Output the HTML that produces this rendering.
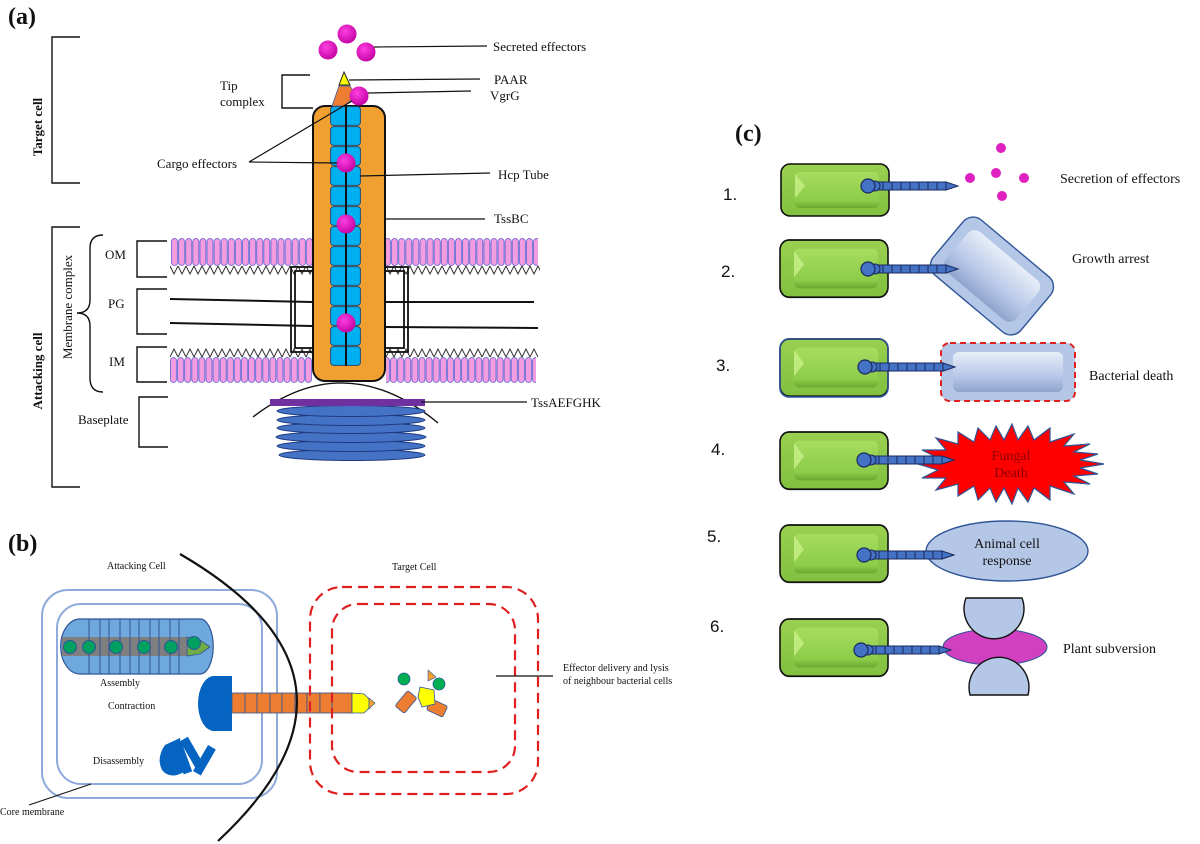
<!DOCTYPE html>
<html><head><meta charset="utf-8"><style>
html,body{margin:0;padding:0;background:#fff}
svg{display:block}
text{font-family:"Liberation Serif",serif;fill:#111}
.s{font-family:"Liberation Sans",sans-serif}
</style></head><body>
<svg width="1200" height="844" viewBox="0 0 1200 844" xmlns="http://www.w3.org/2000/svg">
<defs>
<pattern id="lip" x="171" y="238" width="7.1" height="28" patternUnits="userSpaceOnUse">
<rect x="0.5" y="0.5" width="6" height="27" rx="3" fill="#f49ce0" stroke="#5b5bd0" stroke-width="0.8"/>
</pattern>
<pattern id="lip2" x="170" y="357" width="7.1" height="26" patternUnits="userSpaceOnUse">
<rect x="0.5" y="0.5" width="6" height="25" rx="3" fill="#f49ce0" stroke="#5b5bd0" stroke-width="0.8"/>
</pattern>
<pattern id="zz" x="170" y="265" width="8" height="10" patternUnits="userSpaceOnUse">
<path d="M0,1 L4,9 L8,1" fill="none" stroke="#222" stroke-width="0.9"/>
</pattern>
<pattern id="zz2" x="170" y="348" width="8" height="10" patternUnits="userSpaceOnUse">
<path d="M0,9 L4,1 L8,9" fill="none" stroke="#222" stroke-width="0.9"/>
</pattern>
<pattern id="hcp" x="330" y="106" width="31" height="20" patternUnits="userSpaceOnUse">
<rect x="0.6" y="0.6" width="29.8" height="18.8" rx="3" fill="#00b0f0" stroke="#1f4e79" stroke-width="1"/>
</pattern>
<radialGradient id="mag" cx="0.4" cy="0.35" r="0.7"><stop offset="0" stop-color="#ff40e0"/><stop offset="1" stop-color="#c000a0"/></radialGradient>
<linearGradient id="gr" x1="0" y1="0" x2="0" y2="1"><stop offset="0" stop-color="#9ad050"/><stop offset="1" stop-color="#82c040"/></linearGradient>
<linearGradient id="gi" x1="0" y1="0" x2="0" y2="1"><stop offset="0" stop-color="#a8dc60"/><stop offset="0.8" stop-color="#8ccc48"/><stop offset="1" stop-color="#6aa830"/></linearGradient>
<linearGradient id="bi" x1="0" y1="0" x2="0" y2="1"><stop offset="0" stop-color="#e8eef8"/><stop offset="0.6" stop-color="#b8c8e8"/><stop offset="1" stop-color="#8fa4cc"/></linearGradient>
<g id="cell">
<rect x="0" y="0" width="108" height="52" rx="9" fill="url(#gr)" stroke="#111" stroke-width="1.6"/>
<rect x="14" y="8" width="84" height="36" rx="5" fill="url(#gi)"/>
<polygon points="14,10 24,22 14,34" fill="#c8f088" opacity="0.8"/>
</g>
<g id="ndl">
<rect x="6" y="-4" width="72" height="8" fill="#4472c4" stroke="#1a2a60" stroke-width="1"/>
<path d="M15,-4v8M24,-4v8M33,-4v8M42,-4v8M51,-4v8M60,-4v8M69,-4v8" stroke="#1a2a60" stroke-width="1"/>
<polygon points="78,-4 90,0 78,4" fill="#4472c4" stroke="#1a2a60" stroke-width="1"/>
<circle cx="7" cy="0" r="5" fill="#4472c4" stroke="#1a2a60" stroke-width="1"/>
<circle cx="0" cy="0" r="7" fill="#4472c4" stroke="#1a2a60" stroke-width="1.2"/>
</g>
</defs>

<text x="8" y="24" font-size="24" font-weight="bold">(a)</text>
<g fill="none" stroke="#111" stroke-width="1.4">
<path d="M80,37H52V183H80"/>
<path d="M80,227H52V487H80"/>
<path d="M103,235 Q90,235 90,248 V300 Q90,313 77,313 Q90,313 90,326 V378 Q90,392 103,392"/>
<path d="M167,241H137V277H167"/>
<path d="M167,289H137V334H167"/>
<path d="M167,347H137V382H167"/>
<path d="M168,397H139V447H168"/>
<path d="M310,75H282V108H313"/>
</g>
<text transform="translate(42,127) rotate(-90)" text-anchor="middle" font-size="13" font-weight="bold">Target cell</text>
<text transform="translate(42,371) rotate(-90)" text-anchor="middle" font-size="13" font-weight="bold">Attacking cell</text>
<text transform="translate(72,307) rotate(-90)" text-anchor="middle" font-size="13">Membrane complex</text>
<text x="105" y="259" font-size="13">OM</text>
<text x="108" y="308" font-size="13">PG</text>
<text x="109" y="366" font-size="13">IM</text>
<text x="78" y="424" font-size="13">Baseplate</text>
<text x="220" y="90" font-size="13">Tip</text>
<text x="220" y="106" font-size="13">complex</text>

<rect x="171" y="238" width="142" height="28" fill="url(#lip)"/>
<rect x="385" y="238" width="153" height="28" fill="url(#lip)"/>
<rect x="170" y="265" width="370" height="10" fill="url(#zz)"/>
<rect x="170" y="348" width="368" height="10" fill="url(#zz2)"/>
<rect x="170" y="357" width="142" height="26" fill="url(#lip2)"/>
<rect x="386" y="357" width="150" height="26" fill="url(#lip2)"/>
<g stroke="#111" stroke-width="2">
<line x1="170" y1="299" x2="312" y2="302"/><line x1="384" y1="302" x2="534" y2="302"/>
<line x1="170" y1="323" x2="312" y2="326"/><line x1="384" y1="327" x2="538" y2="328"/>
</g>
<rect x="291" y="267" width="117" height="85" fill="none" stroke="#111" stroke-width="1.8"/>
<rect x="295" y="271" width="109" height="77" fill="none" stroke="#111" stroke-width="1.8"/>

<path d="M253,417 Q345,346 438,423" fill="none" stroke="#111" stroke-width="1.4"/>
<g fill="#4472c4" stroke="#1f3a80" stroke-width="1">
<ellipse cx="352" cy="455" rx="73" ry="5.5"/>
<ellipse cx="351" cy="446" rx="74" ry="5.5"/>
<ellipse cx="351" cy="437" rx="75" ry="5.5"/>
<ellipse cx="351" cy="428" rx="74" ry="5.5"/>
<ellipse cx="351" cy="420" rx="74" ry="5.5"/>
<ellipse cx="351" cy="411" rx="74" ry="5.5"/>
</g>
<rect x="270" y="399" width="155" height="7" fill="#7030a0"/>

<rect x="313" y="106" width="72" height="275" rx="12" fill="#f0a030" stroke="#111" stroke-width="2"/>
<rect x="330" y="106" width="31" height="260" fill="url(#hcp)"/>
<line x1="346" y1="106" x2="346" y2="366" stroke="#111" stroke-width="2"/>
<polygon points="339,86 350,86 356,96 344,106 332,106" fill="#ed7d31" stroke="#4060a0" stroke-width="0.8"/>
<polygon points="344,72 339,85 350,85" fill="#ffff00" stroke="#222" stroke-width="1"/>
<g fill="url(#mag)">
<circle cx="347" cy="34" r="9.5"/><circle cx="328" cy="50" r="9.5"/><circle cx="366" cy="52" r="9.5"/>
<circle cx="359" cy="96" r="9.5"/>
<circle cx="346" cy="163" r="9.5"/><circle cx="346" cy="224" r="9.5"/><circle cx="346" cy="323" r="9.5"/>
</g>
<g stroke="#111" stroke-width="1.2">
<line x1="374" y1="47" x2="487" y2="46"/>
<line x1="349" y1="80" x2="480" y2="79"/>
<line x1="368" y1="93" x2="471" y2="91"/>
<line x1="249" y1="162" x2="337" y2="163"/>
<line x1="249" y1="162" x2="352" y2="101"/>
<line x1="360" y1="176" x2="490" y2="173"/>
<line x1="385" y1="219" x2="485" y2="219"/>
<line x1="421" y1="402" x2="527" y2="402"/>
</g>
<g font-size="13">
<text x="493" y="51">Secreted effectors</text>
<text x="494" y="84">PAAR</text>
<text x="490" y="100">VgrG</text>
<text x="157" y="168">Cargo effectors</text>
<text x="498" y="179">Hcp Tube</text>
<text x="494" y="223">TssBC</text>
<text x="531" y="407">TssAEFGHK</text>
</g>

<text x="8" y="551" font-size="24" font-weight="bold">(b)</text>
<text x="107" y="569" font-size="10">Attacking  Cell</text>
<text x="392" y="570" font-size="10">Target Cell</text>
<rect x="42" y="590" width="235" height="208" rx="26" fill="none" stroke="#8eaadb" stroke-width="2"/>
<rect x="57" y="604" width="205" height="180" rx="24" fill="none" stroke="#8eaadb" stroke-width="2"/>
<path d="M80,619 H200 A13,27 0 0 1 200,674 H80 A19,27 0 0 1 80,619Z" fill="#6fa8dc" stroke="#2f5597" stroke-width="1.2"/>
<rect x="62" y="637" width="125" height="19" fill="#7f7f7f"/>
<polygon points="187,637 200,640 210,647 200,654 187,656" fill="#70ad47" stroke="#2f5597" stroke-width="0.8"/>
<g stroke="#2f5597" stroke-width="1" fill="none">
<path d="M89,619v55M100,619v55M109,619v55M120,619v55M130,619v55M139,619v55M150,619v55M159,619v55M170,619v55M179,619v55"/>
</g>
<g fill="#00a060" stroke="#2f5597" stroke-width="1">
<circle cx="70" cy="647" r="6.5"/><circle cx="89" cy="647" r="6.5"/><circle cx="116" cy="647" r="6.5"/>
<circle cx="144" cy="647" r="6.5"/><circle cx="171" cy="647" r="6.5"/><circle cx="194" cy="643" r="6.5"/>
</g>
<text x="100" y="686" font-size="10">Assembly</text>
<text x="108" y="709" font-size="10">Contraction</text>
<text x="93" y="764" font-size="10">Disassembly</text>
<text x="0" y="815" font-size="10">Core membrane</text>
<line x1="29" y1="805" x2="91" y2="784" stroke="#111" stroke-width="1"/>
<path d="M232,676 H214 A16,27.5 0 0 0 214,731 H232Z" fill="#0563c1"/>
<g fill="#ed7d31" stroke="#2f5597" stroke-width="0.8">
<rect x="232" y="693" width="13" height="20"/><rect x="245" y="693" width="12" height="20"/><rect x="257" y="693" width="13" height="20"/>
<rect x="270" y="693" width="12" height="20"/><rect x="282" y="693" width="13" height="20"/><rect x="295" y="693" width="12" height="20"/>
<rect x="307" y="693" width="13" height="20"/><rect x="320" y="693" width="12" height="20"/><rect x="332" y="693" width="20" height="20"/>
</g>
<polygon points="352,693 364,694 369,699 369,708 364,713 352,713" fill="#ffff00" stroke="#2f5597" stroke-width="0.8"/>
<polygon points="369,698 375,703 369,709" fill="#f0a030" stroke="#2f5597" stroke-width="0.6"/>
<g fill="#0563c1">
<path d="M165,745 L180,738 L184,772 Q170,780 162,770 Q156,758 165,745Z"/>
<rect x="178" y="742" width="9" height="32" transform="rotate(-20 182 758)"/>
<rect x="188" y="737" width="9" height="34" transform="rotate(-30 192 754)"/>
<rect x="200" y="745" width="9" height="30" transform="rotate(30 204 760)"/>
</g>
<path d="M180,554 Q393,678 218,841" fill="none" stroke="#111" stroke-width="2.2"/>
<rect x="310" y="587" width="228" height="207" rx="32" fill="none" stroke="#e02020" stroke-width="2.2" stroke-dasharray="10,6"/>
<rect x="332" y="604" width="183" height="168" rx="26" fill="none" stroke="#e02020" stroke-width="2.2" stroke-dasharray="10,6"/>
<circle cx="404" cy="679" r="6" fill="#00b050" stroke="#2f5597" stroke-width="0.8"/>
<circle cx="439" cy="684" r="6" fill="#00b050" stroke="#2f5597" stroke-width="0.8"/>
<polygon points="428,670 436,677 428,681" fill="#f0a030" stroke="#2f5597" stroke-width="0.6"/>
<rect x="400" y="692" width="12" height="20" rx="2" transform="rotate(40 406 702)" fill="#ed7d31" stroke="#2f5597" stroke-width="0.8"/>
<rect x="428" y="702" width="18" height="12" rx="2" transform="rotate(25 437 708)" fill="#ed7d31" stroke="#2f5597" stroke-width="0.8"/>
<polygon points="420,687 434,690 435,704 422,707 418,697" fill="#ffff00" stroke="#2f5597" stroke-width="0.8"/>
<line x1="496" y1="676" x2="553" y2="676" stroke="#111" stroke-width="1.2"/>
<text x="563" y="671" font-size="10">Effector delivery and lysis</text>
<text x="563" y="684" font-size="10">of neighbour  bacterial cells</text>

<text x="735" y="141" font-size="24" font-weight="bold">(c)</text>
<g class="s" font-size="17">
<text x="723" y="200" class="s">1.</text>
<text x="721" y="277" class="s">2.</text>
<text x="716" y="371" class="s">3.</text>
<text x="711" y="455" class="s">4.</text>
<text x="707" y="542" class="s">5.</text>
<text x="710" y="632" class="s">6.</text>
</g>
<use href="#cell" transform="translate(781,164)"/>
<use href="#cell" transform="translate(780,240) scale(1,1.1)"/>
<use href="#cell" transform="translate(780,339) scale(1,1.1)"/>
<use href="#cell" transform="translate(780,432) scale(1,1.1)"/>
<use href="#cell" transform="translate(780,525) scale(1,1.1)"/>
<use href="#cell" transform="translate(780,619) scale(1,1.1)"/>
<rect x="780" y="339" width="108" height="58" rx="9" fill="none" stroke="#2f5597" stroke-width="1.6"/>

<g fill="#e020c0"><circle cx="1001" cy="148" r="5"/><circle cx="970" cy="178" r="5"/><circle cx="996" cy="173" r="5"/><circle cx="1024" cy="178" r="5"/><circle cx="1002" cy="196" r="5"/></g>
<text x="1060" y="183" font-size="14">Secretion of effectors</text>
<g transform="rotate(40 992 276)">
<rect x="935" y="240" width="114" height="72" rx="13" fill="#b4c7e7" stroke="#2f5597" stroke-width="1.4"/>
<rect x="946" y="250" width="92" height="52" rx="9" fill="url(#bi)"/>
</g>
<text x="1072" y="263" font-size="14">Growth arrest</text>
<rect x="941" y="343" width="134" height="58" rx="9" fill="#b4c7e7" stroke="#e02020" stroke-width="2" stroke-dasharray="6,4"/>
<rect x="953" y="352" width="110" height="40" rx="6" fill="url(#bi)"/>
<text x="1089" y="380" font-size="14">Bacterial death</text>
<polygon fill="#ff0000" stroke="#2f5597" stroke-width="1.2" points="1104,464 1080,468 1098,474 1074,476 1090,484 1064,482 1074,494 1050,486 1050,500 1034,488 1028,502 1018,488 1012,504 1004,488 996,502 990,488 978,500 974,486 958,496 958,484 936,490 946,478 922,478 938,470 918,464 938,458 922,450 946,450 936,438 958,444 958,432 974,442 978,428 990,440 996,426 1004,440 1012,424 1018,440 1028,426 1034,440 1050,428 1050,442 1074,434 1064,446 1090,444 1074,452 1098,454 1080,460"/>
<text x="1011" y="460" font-size="14" text-anchor="middle" style="fill:#8b0000">Fungal</text>
<text x="1011" y="477" font-size="14" text-anchor="middle" style="fill:#8b0000">Death</text>
<ellipse cx="1007" cy="551" rx="81" ry="30" fill="#b4c7e7" stroke="#2f5597" stroke-width="1.4"/>
<text x="1007" y="548" font-size="14" text-anchor="middle">Animal  cell</text>
<text x="1007" y="565" font-size="14" text-anchor="middle">response</text>
<ellipse cx="995" cy="647" rx="52" ry="18" fill="#d040c0" stroke="#2f5597" stroke-width="1"/>
<path d="M966,598 H1022 A30,30 0 1 1 966,598Z" fill="#b4c7e7" stroke="#111" stroke-width="1.4"/>
<path d="M970,695 H1028 A30,30 0 1 0 970,695Z" fill="#b4c7e7" stroke="#111" stroke-width="1.4"/>
<text x="1063" y="653" font-size="14">Plant subversion</text>

<use href="#ndl" transform="translate(868,186)"/>
<use href="#ndl" transform="translate(868,269)"/>
<use href="#ndl" transform="translate(865,367)"/>
<use href="#ndl" transform="translate(864,460)"/>
<use href="#ndl" transform="translate(864,555)"/>
<use href="#ndl" transform="translate(861,650)"/>
</svg>
</body></html>
